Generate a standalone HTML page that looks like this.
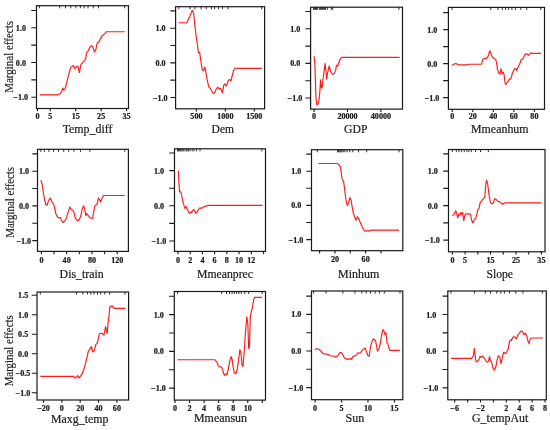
<!DOCTYPE html>
<html><head><meta charset="utf-8"><title>Marginal effects</title>
<style>
html,body{margin:0;padding:0;background:#fff;}
body{width:550px;height:430px;overflow:hidden;}
svg{display:block;}
.c{fill:none;stroke:#ff1a1a;stroke-width:1.15;stroke-linejoin:round;}
.b{fill:none;stroke:#1a1a1a;stroke-width:1.2;}
.k{fill:none;stroke:#1a1a1a;stroke-width:1.1;}
.r{fill:none;stroke:#1a1a1a;stroke-width:0.9;}
.t{font-family:"Liberation Serif",serif;font-weight:bold;font-size:8.1px;text-anchor:middle;fill:#1a1a1a;stroke:#1a1a1a;stroke-width:0.22px;}
.xl{font-family:"Liberation Serif",serif;font-size:11.9px;fill:#1a1a1a;stroke:#1a1a1a;stroke-width:0.2px;}
.yl{font-family:"Liberation Serif",serif;font-size:11.6px;text-anchor:middle;fill:#1a1a1a;stroke:#1a1a1a;stroke-width:0.15px;}
</style></head><body>
<svg width="550" height="430" viewBox="0 0 550 430">
<rect width="550" height="430" fill="#fff"/>
<polyline class="c" points="39.7,94.8 57.7,94.8 60.5,93.5 62,90.7 62.7,88.1 63.8,90.3 65.1,88.8 67.9,77.7 70.7,67.4 72,66.5 73.5,65.6 74.8,68.7 76.3,66.5 78.1,66.5 79.4,72.7 80.9,64.7 83.2,61.9 84.7,60.6 85.8,58.1 86.5,52.6 88.4,50.7 89.9,47 91.7,45.7 93,47.5 94.5,52 95.8,49.8 97.1,43.3 99.2,41.4 100.5,38.6 101.8,36.4 102.9,35.3 105.1,33.4 106.4,31.7 124.7,31.7"/>
<rect class="b" x="36.5" y="5.7" width="92" height="102.8"/>
<path class="k" d="M31.3 10.45H36.5M31.3 27.8H36.5M31.3 45.15H36.5M31.3 62.5H36.5M31.3 79.85H36.5M31.3 97.2H36.5M37.5 108.5V111.3M50.23 108.5V111.3M75.69 108.5V111.3M101.14 108.5V111.3M126.6 108.5V111.3"/>
<path class="r" d="M39.4 5.7V8.3M59.7 5.7V8.3M65.5 5.7V8.3M70.8 5.7V8.3M75.8 5.7V8.3M80.4 5.7V8.3M84.1 5.7V8.3M88 5.7V8.3M93.2 5.7V8.3M98.6 5.7V8.3M124.7 5.7V8.3"/>
<text class="t" x="20.9" y="30.8">1.0</text>
<text class="t" x="20.9" y="65.5">0.0</text>
<text class="t" x="20.65" y="100.2">−1.0</text>
<text class="t" x="37.5" y="118.5">0</text>
<text class="t" x="50.23" y="118.5">5</text>
<text class="t" x="75.69" y="118.5">15</text>
<text class="t" x="101.14" y="118.5">25</text>
<text class="t" x="126.6" y="118.5">35</text>
<text class="xl" x="62.7" y="133.4" textLength="49.7" lengthAdjust="spacingAndGlyphs">Temp_diff</text>
<polyline class="c" points="178.5,22.7 186.9,22.7 188.6,18.5 189.6,17.4 190.7,14.3 191.7,11.1 192.7,10.5 193.8,14.3 194.8,24.7 196.3,37.3 197.6,45.7 198.4,52.4 199.7,52.6 200.7,60.3 202.2,69.7 203.6,70.8 204.7,67 205.7,70.8 207,79.2 208.9,87.1 210.1,88 211.6,90.7 213.3,93.4 214.7,92.8 216.4,88.6 217.9,87.1 219.3,89.2 220.6,88.2 222.5,92.8 223.7,85.4 224.8,83.8 226.2,85.9 227.3,83.8 228.3,80.2 229.8,79.6 231,80.8 232.1,76 233.6,70.4 235.2,68.1 237.3,68.3 261.8,68.3"/>
<rect class="b" x="175.6" y="6.7" width="89" height="102.1"/>
<path class="k" d="M170.4 10.88H175.6M170.4 28.2H175.6M170.4 45.52H175.6M170.4 62.85H175.6M170.4 80.17H175.6M170.4 97.5H175.6M196.4 108.8V111.6M225.35 108.8V111.6M254.3 108.8V111.6"/>
<path class="r" d="M178.8 6.7V9.3M190.1 6.7V9.3M194.9 6.7V9.3M201.1 6.7V9.3M206.3 6.7V9.3M211.5 6.7V9.3M214.6 6.7V9.3M218.5 6.7V9.3M222.4 6.7V9.3M227.9 6.7V9.3M261.7 6.7V9.3"/>
<text class="t" x="160.5" y="31.2">1.0</text>
<text class="t" x="160.5" y="65.85">0.0</text>
<text class="t" x="160.25" y="100.5">−1.0</text>
<text class="t" x="196.4" y="118.8">500</text>
<text class="t" x="225.35" y="118.8">1000</text>
<text class="t" x="254.3" y="118.8">1500</text>
<text class="xl" x="211.6" y="133.4" textLength="22.4" lengthAdjust="spacingAndGlyphs">Dem</text>
<polyline class="c" points="314.1,56.3 314.9,64.4 315.4,80.7 315.9,97 316.8,104.8 317.8,104.3 319,100.2 319.8,92.1 320.6,79.9 321.4,88 322.2,87.2 323,79.1 324.3,69.3 325.1,63.6 326,71.7 326.6,79.1 327.6,72.6 328.4,69.3 329.2,66 330.3,70.1 331.2,72.6 332.8,74.2 334.4,73.4 335.7,70.1 336.5,65.2 337.7,66 338.8,62.8 339.8,59.5 341.7,57.3 399.6,57.3"/>
<rect class="b" x="310.6" y="7.2" width="91.9" height="101.9"/>
<path class="k" d="M305.4 11.5H310.6M305.4 28.8H310.6M305.4 46.1H310.6M305.4 63.4H310.6M305.4 80.7H310.6M305.4 98H310.6M314.1 109.1V111.9M347.5 109.1V111.9M380.9 109.1V111.9"/>
<path class="r" d="M313.5 7.2V9.8M314.5 7.2V9.8M315.5 7.2V9.8M316.5 7.2V9.8M317.6 7.2V9.8M319.4 7.2V9.8M320.4 7.2V9.8M321.4 7.2V9.8M322.4 7.2V9.8M323.4 7.2V9.8M324.4 7.2V9.8M325.5 7.2V9.8M327.3 7.2V9.8M331.3 7.2V9.8M332.6 7.2V9.8M398.9 7.2V9.8"/>
<text class="t" x="295.2" y="31.8">1.0</text>
<text class="t" x="295.2" y="66.4">0.0</text>
<text class="t" x="294.95" y="101">−1.0</text>
<text class="t" x="314.1" y="119.1">0</text>
<text class="t" x="347.5" y="119.1">20000</text>
<text class="t" x="380.9" y="119.1">40000</text>
<text class="xl" x="344" y="133.2" textLength="23.4" lengthAdjust="spacingAndGlyphs">GDP</text>
<polyline class="c" points="451.9,65.5 454.2,64.1 456,63.5 458.7,64.9 466.7,64.9 468.5,64.2 481.5,64.1 482.7,59.6 484.2,58.2 486,58.5 487.6,57.5 488.6,54.3 489.9,50.7 491.1,53.9 492.5,57.3 494.3,58.7 495.8,59.6 496.6,63.2 497.5,69.4 498.8,73 500,74.2 500.9,68.5 502,73.9 503.2,72.1 504.1,74.7 505,82.8 505.9,84.5 507.7,81.9 509.5,78.8 510.7,79.2 512.5,73 514.3,68.9 515.7,68.5 516.6,70.6 518.4,66.4 520.2,62.8 521.1,59.6 522.8,59.1 524.3,55.7 525.5,53.9 527.3,54.3 528.5,55.3 530,53.7 531.4,52.8 532.6,53.4 541,53.4"/>
<rect class="b" x="448.4" y="7.4" width="96.1" height="101.9"/>
<path class="k" d="M443.2 12.6H448.4M443.2 29.6H448.4M443.2 46.6H448.4M443.2 63.6H448.4M443.2 80.6H448.4M443.2 97.6H448.4M452.2 109.3V112.1M472.75 109.3V112.1M493.3 109.3V112.1M513.85 109.3V112.1M534.4 109.3V112.1"/>
<path class="r" d="M452.1 7.4V10M490.8 7.4V10M498 7.4V10M502.3 7.4V10M505.6 7.4V10M508.6 7.4V10M511.9 7.4V10M515.4 7.4V10M520.8 7.4V10M526.7 7.4V10M540.8 7.4V10"/>
<text class="t" x="432.3" y="32.6">1.0</text>
<text class="t" x="432.3" y="66.6">0.0</text>
<text class="t" x="432.05" y="100.6">−1.0</text>
<text class="t" x="452.2" y="119.3">0</text>
<text class="t" x="472.75" y="119.3">20</text>
<text class="t" x="493.3" y="119.3">40</text>
<text class="t" x="513.85" y="119.3">60</text>
<text class="t" x="534.4" y="119.3">80</text>
<text class="xl" x="471" y="133.2" textLength="57.6" lengthAdjust="spacingAndGlyphs">Mmeanhum</text>
<polyline class="c" points="40.9,180.2 42.1,184 43.2,191.4 44.5,199.5 45.9,205 47,205.3 48.1,202 49.8,198.2 51.1,199.5 52.4,202.8 53.7,204.1 54.7,208.5 56,214.3 57.6,217.2 59.3,217.9 60.4,217.5 61.7,220.5 62.9,222.5 64.5,221.1 66.1,218.9 67.5,214.3 68.8,210.2 69.9,206.9 71.2,209.4 72.9,210.2 74,212.6 75.3,217.9 76.8,220.3 78.4,220.3 80.1,217.9 81.4,213.5 82.5,207.7 83.8,205.8 85,210.7 85.8,215.6 86.8,213.5 87.9,215.1 89.5,217.2 91.2,218.2 92.5,218.4 93.6,212.6 94.8,206.1 96.1,205 97.2,203.6 98.5,197.9 99.4,199.5 100.7,202 101.8,198.7 103.5,195.5 124.7,195.5"/>
<rect class="b" x="37.5" y="149.3" width="90.9" height="102.1"/>
<path class="k" d="M32.3 153.85H37.5M32.3 171.2H37.5M32.3 188.55H37.5M32.3 205.9H37.5M32.3 223.25H37.5M32.3 240.6H37.5M41.4 251.4V254.2M54.03 251.4V254.2M66.67 251.4V254.2M79.3 251.4V254.2M91.93 251.4V254.2M104.57 251.4V254.2M117.2 251.4V254.2"/>
<path class="r" d="M40.8 149.3V151.9M44.3 149.3V151.9M48.9 149.3V151.9M53.5 149.3V151.9M58.5 149.3V151.9M63.7 149.3V151.9M68.7 149.3V151.9M74 149.3V151.9M80.5 149.3V151.9M89.9 149.3V151.9M124.8 149.3V151.9"/>
<text class="t" x="24.05" y="174.2">1.0</text>
<text class="t" x="24.05" y="208.9">0.0</text>
<text class="t" x="23.8" y="243.6">−1.0</text>
<text class="t" x="41.4" y="262.5">0</text>
<text class="t" x="66.67" y="262.5">40</text>
<text class="t" x="91.93" y="262.5">80</text>
<text class="t" x="117.2" y="262.5">120</text>
<text class="xl" x="59.6" y="278.2" textLength="44" lengthAdjust="spacingAndGlyphs">Dis_train</text>
<polyline class="c" points="178.5,170.8 178.8,180.3 179.5,191.9 180.1,191.2 181,192.5 182,197 183.3,203.4 185,208.5 186.3,206.6 187.2,209.1 188.4,211.7 189.7,213.3 190.6,212.1 191.6,212.6 192.9,210.4 193.9,209.5 194.8,211 195.8,213.3 197,212.1 198,210.4 199.3,208.5 200.3,207.8 201.2,208.7 202.5,207.5 204.4,206.6 206.3,205.9 208.5,205.4 262.5,205.4"/>
<rect class="b" x="174.5" y="148.8" width="91" height="102.6"/>
<path class="k" d="M169.3 153H174.5M169.3 170.6H174.5M169.3 188.2H174.5M169.3 205.8H174.5M169.3 223.4H174.5M169.3 241H174.5M178 251.4V254.2M190.21 251.4V254.2M202.43 251.4V254.2M214.64 251.4V254.2M226.86 251.4V254.2M239.07 251.4V254.2M251.29 251.4V254.2M263.5 251.4V254.2"/>
<path class="r" d="M177.5 148.8V151.4M178.6 148.8V151.4M179.7 148.8V151.4M180.8 148.8V151.4M181.9 148.8V151.4M183 148.8V151.4M184.1 148.8V151.4M186.2 148.8V151.4M187 148.8V151.4M188.3 148.8V151.4M190 148.8V151.4M192.2 148.8V151.4M194 148.8V151.4M196.6 148.8V151.4M200 148.8V151.4M261.9 148.8V151.4"/>
<text class="t" x="159.1" y="173.6">1.0</text>
<text class="t" x="159.1" y="208.8">0.0</text>
<text class="t" x="158.85" y="244">−1.0</text>
<text class="t" x="178" y="262.5">0</text>
<text class="t" x="190.21" y="262.5">2</text>
<text class="t" x="202.43" y="262.5">4</text>
<text class="t" x="214.64" y="262.5">6</text>
<text class="t" x="226.86" y="262.5">8</text>
<text class="t" x="239.07" y="262.5">10</text>
<text class="t" x="251.29" y="262.5">12</text>
<text class="xl" x="197" y="278.4" textLength="56" lengthAdjust="spacingAndGlyphs">Mmeanprec</text>
<polyline class="c" points="318.5,163.5 337.1,163.5 339.1,164.9 340.3,166.9 341.3,172.8 342,178.7 342.6,179.7 343.6,181.7 344.6,188.6 345.6,197.5 346.6,203.4 347.6,205.4 348.6,202.4 350,197.5 351.1,200.5 352.1,206.4 353.1,212.3 354.1,215.3 355.9,220.2 357.5,216.7 359,219.2 361,224.2 363,228.5 364.4,231.1 366.4,230.7 368.3,231.1 371.3,230.1 399,230.1"/>
<rect class="b" x="311.5" y="149.7" width="91.3" height="101"/>
<path class="k" d="M306.3 154.1H311.5M306.3 171.2H311.5M306.3 188.3H311.5M306.3 205.4H311.5M306.3 222.5H311.5M306.3 239.6H311.5M319.6 250.7V253.5M334.95 250.7V253.5M350.3 250.7V253.5M365.65 250.7V253.5M381 250.7V253.5"/>
<path class="r" d="M317.3 149.7V152.3M337.6 149.7V152.3M338.6 149.7V152.3M339.7 149.7V152.3M340.9 149.7V152.3M341.9 149.7V152.3M343.2 149.7V152.3M344.9 149.7V152.3M347 149.7V152.3M349.8 149.7V152.3M352.8 149.7V152.3M358.5 149.7V152.3M366.7 149.7V152.3M399 149.7V152.3"/>
<text class="t" x="296.2" y="174.2">1.0</text>
<text class="t" x="296.2" y="208.4">0.0</text>
<text class="t" x="295.95" y="242.6">−1.0</text>
<text class="t" x="334.95" y="261.8">20</text>
<text class="t" x="365.65" y="261.8">60</text>
<text class="xl" x="338" y="278.4" textLength="41.4" lengthAdjust="spacingAndGlyphs">Minhum</text>
<polyline class="c" points="452.1,215.5 453.9,214.8 455.6,210.8 456.5,212.5 457.7,217.8 459,213.8 460,215.1 460.9,212.5 461.7,214.3 462.6,212.5 463.8,220.7 465.1,214.3 466.5,213.8 469.1,213.8 470.5,214.3 471.7,220.4 472.9,223 474.3,219.5 475.7,218.6 476.9,213.8 477.8,209.9 479,208.2 480.1,202.9 481.3,201.2 483,199.1 484.8,196.8 485.7,185.5 486.5,180.2 487.8,184.6 489.1,195.9 490.5,202.6 492.1,203.8 493.2,203.3 494.7,198.6 496.5,199.8 497.9,201.2 500.5,202.6 502.8,204.3 504.5,202.9 541.5,202.9"/>
<rect class="b" x="448.5" y="149.5" width="96.5" height="102.3"/>
<path class="k" d="M443.3 153.85H448.5M443.3 171.1H448.5M443.3 188.35H448.5M443.3 205.6H448.5M443.3 222.85H448.5M443.3 240.1H448.5M452.4 251.8V254.6M465.11 251.8V254.6M477.83 251.8V254.6M490.54 251.8V254.6M503.26 251.8V254.6M515.97 251.8V254.6M528.69 251.8V254.6M541.4 251.8V254.6"/>
<path class="r" d="M452.3 149.5V152.1M456.3 149.5V152.1M458.9 149.5V152.1M461.7 149.5V152.1M464.3 149.5V152.1M466.9 149.5V152.1M468.9 149.5V152.1M471.3 149.5V152.1M475.5 149.5V152.1M480.5 149.5V152.1M488.3 149.5V152.1"/>
<text class="t" x="432.7" y="174.1">1.0</text>
<text class="t" x="432.7" y="208.6">0.0</text>
<text class="t" x="432.45" y="243.1">−1.0</text>
<text class="t" x="452.4" y="262.9">0</text>
<text class="t" x="465.11" y="262.9">5</text>
<text class="t" x="490.54" y="262.9">15</text>
<text class="t" x="515.97" y="262.9">25</text>
<text class="t" x="541.4" y="262.9">35</text>
<text class="xl" x="486.4" y="278.4" textLength="26.6" lengthAdjust="spacingAndGlyphs">Slope</text>
<polyline class="c" points="40.4,376.3 73.6,376.3 75,378.1 76.2,377.1 77.6,375.6 78.9,378.1 80.5,376.1 82.5,373.2 84.5,367.2 86.5,359.3 88.4,351 89.8,349.4 91.4,346.5 92.8,351.8 94.4,350.4 95.8,344.5 97.3,343.1 98.3,338.6 99.3,334 100.9,333.2 102.3,333.6 103.9,335.2 105.6,326.7 107.2,333.6 108.2,321.8 109.2,313.8 109.8,306.9 112.2,305.9 114.1,308.3 125,308.3"/>
<rect class="b" x="37" y="292" width="91.6" height="108"/>
<path class="k" d="M31.8 295.2H37M31.8 314.7H37M31.8 334.2H37M31.8 353.7H37M31.8 373.2H37M31.8 392.7H37M43.5 400V402.8M61.85 400V402.8M80.2 400V402.8M98.55 400V402.8M116.9 400V402.8"/>
<path class="r" d="M40.3 292V294.6M76.5 292V294.6M82.9 292V294.6M87.5 292V294.6M90.8 292V294.6M94 292V294.6M97.5 292V294.6M100.7 292V294.6M104.7 292V294.6M109.7 292V294.6M124.9 292V294.6"/>
<text class="t" x="23.15" y="298.2">1.5</text>
<text class="t" x="23.15" y="317.7">1.0</text>
<text class="t" x="23.15" y="337.2">0.5</text>
<text class="t" x="23.15" y="356.7">0.0</text>
<text class="t" x="22.9" y="376.2">−0.5</text>
<text class="t" x="22.9" y="395.7">−1.0</text>
<text class="t" x="43.5" y="411.1">−20</text>
<text class="t" x="61.85" y="411.1">0</text>
<text class="t" x="80.2" y="411.1">20</text>
<text class="t" x="98.55" y="411.1">40</text>
<text class="t" x="116.9" y="411.1">60</text>
<text class="xl" x="51" y="423" textLength="57.4" lengthAdjust="spacingAndGlyphs">Maxg_temp</text>
<polyline class="c" points="177.5,359.7 214.8,359.7 216.9,362.2 218.3,365.8 219.6,367 221.5,367 222.7,369.5 223.6,373.7 224.8,375.4 225.9,373.7 226.9,374.8 228.4,368.5 229.8,361.2 231.1,356.6 232.1,359.1 233.2,367.4 234.2,372.7 235.7,373.7 237.2,369.5 238.4,361.2 239.9,349.6 240.9,352.8 242,365.3 243,366.4 244.1,352.8 245.5,331.9 246.8,316.8 247.8,323.5 248.7,348.6 249.5,346.5 250.3,317.2 251.4,310.9 252.4,307.8 253.5,300.5 254.5,297.3 261.9,297.3"/>
<rect class="b" x="174.3" y="291.5" width="91.2" height="108.6"/>
<path class="k" d="M169.1 296.23H174.3M169.1 314.6H174.3M169.1 332.98H174.3M169.1 351.35H174.3M169.1 369.73H174.3M169.1 388.1H174.3M175 400.1V402.9M189.55 400.1V402.9M204.1 400.1V402.9M218.65 400.1V402.9M233.2 400.1V402.9M247.75 400.1V402.9M262.3 400.1V402.9"/>
<path class="r" d="M177.6 291.5V294.1M221.7 291.5V294.1M226.5 291.5V294.1M229.5 291.5V294.1M232.1 291.5V294.1M234.3 291.5V294.1M236.7 291.5V294.1M238.9 291.5V294.1M241.3 291.5V294.1M244.8 291.5V294.1M248.7 291.5V294.1M262.2 291.5V294.1"/>
<text class="t" x="158.7" y="317.6">1.0</text>
<text class="t" x="158.7" y="354.35">0.0</text>
<text class="t" x="158.45" y="391.1">−1.0</text>
<text class="t" x="175" y="411.2">0</text>
<text class="t" x="189.55" y="411.2">2</text>
<text class="t" x="204.1" y="411.2">4</text>
<text class="t" x="218.65" y="411.2">6</text>
<text class="t" x="233.2" y="411.2">8</text>
<text class="t" x="247.75" y="411.2">10</text>
<text class="xl" x="194" y="421.8" textLength="53" lengthAdjust="spacingAndGlyphs">Mmeansun</text>
<polyline class="c" points="314.9,349.9 316.1,349.1 317.2,348.6 318.9,349.5 320.5,350.8 322.1,352.7 323.8,354 325.4,354 327.1,354.4 328.4,354.4 330,355.7 331.6,356 333.3,356 334.9,356.8 336.5,356.8 338.2,355.2 339.5,352.7 341.1,352.4 342.8,354.4 344.4,358 346.4,359.3 348,358.9 349.3,359.3 350.5,358.5 351.6,359.3 352.9,356.8 354.5,355.7 356.2,355.2 357.8,352.7 359.5,353.2 361.1,351.9 363.1,349.5 365.2,348.1 366.8,352.7 368.1,356 369.3,356.3 370.6,346.2 372.1,341.3 373.4,338.8 374.5,339.6 375.5,340.5 376.6,346.2 377.5,351.1 378.8,349.5 380.4,342.9 381.5,335.5 382.9,329.5 384,331.1 385.1,334.7 386,332.8 387,342.9 387.8,343.7 389.7,350.3 399.9,350.3"/>
<rect class="b" x="311.5" y="291" width="91.3" height="108.7"/>
<path class="k" d="M306.3 296.1H311.5M306.3 314.4H311.5M306.3 332.7H311.5M306.3 351H311.5M306.3 369.3H311.5M306.3 387.6H311.5M315.1 399.7V402.5M341.53 399.7V402.5M367.97 399.7V402.5M394.4 399.7V402.5"/>
<path class="r" d="M313.6 291V293.6M326 291V293.6M342.9 291V293.6M354.9 291V293.6M361.8 291V293.6M366.1 291V293.6M370.5 291V293.6M375.1 291V293.6M379.4 291V293.6M384.3 291V293.6M400 291V293.6"/>
<text class="t" x="296.2" y="317.4">1.0</text>
<text class="t" x="296.2" y="354">0.0</text>
<text class="t" x="295.95" y="390.6">−1.0</text>
<text class="t" x="315.1" y="410.8">0</text>
<text class="t" x="341.53" y="410.8">5</text>
<text class="t" x="367.97" y="410.8">10</text>
<text class="t" x="394.4" y="410.8">15</text>
<text class="xl" x="345.6" y="421.8" textLength="18.8" lengthAdjust="spacingAndGlyphs">Sun</text>
<polyline class="c" points="451.1,358.4 471.7,358.4 473.4,355.8 474.3,348.3 475.2,356.7 476.1,361.9 477.3,361.5 478.7,360.1 480.1,356.3 481.3,357.5 482.5,355.8 483.9,357.5 485.7,360.5 487.1,362.2 488.4,361.5 489.5,356.7 490.5,360.5 491.8,362.8 493,368 494.4,370.3 495.8,367.1 497,360.5 498.2,355.8 499.6,356.7 501,363.6 502.2,358.4 503.5,352.3 504.9,353.5 506.6,352.3 508.3,348.8 509.2,342.7 510.1,340.1 511.3,340.6 512.7,337.5 513.9,336.6 515.3,337.5 516.6,338.9 517.6,335.7 518.8,334 520.2,331.9 521.4,330.8 522.7,331.9 524.1,334.8 525.3,333.1 526.7,335.7 527.9,340.9 528.9,343.6 530.2,338.9 531.9,338 542.9,338"/>
<rect class="b" x="447.8" y="291" width="98.5" height="108.8"/>
<path class="k" d="M442.6 296.15H447.8M442.6 314.5H447.8M442.6 332.85H447.8M442.6 351.2H447.8M442.6 369.55H447.8M442.6 387.9H447.8M454.7 399.8V402.6M467.6 399.8V402.6M480.5 399.8V402.6M493.4 399.8V402.6M506.3 399.8V402.6M519.2 399.8V402.6M532.1 399.8V402.6M545 399.8V402.6"/>
<path class="r" d="M451 291V293.6M474.4 291V293.6M485.3 291V293.6M490.5 291V293.6M496.7 291V293.6M500.9 291V293.6M504.4 291V293.6M509.5 291V293.6M515.8 291V293.6M522.9 291V293.6M542.4 291V293.6"/>
<text class="t" x="431.2" y="317.5">1.0</text>
<text class="t" x="431.2" y="354.2">0.0</text>
<text class="t" x="430.95" y="390.9">−1.0</text>
<text class="t" x="454.7" y="410.9">−6</text>
<text class="t" x="480.5" y="410.9">−2</text>
<text class="t" x="506.3" y="410.9">2</text>
<text class="t" x="519.2" y="410.9">4</text>
<text class="t" x="532.1" y="410.9">6</text>
<text class="t" x="545" y="410.9">8</text>
<text class="xl" x="472" y="422" textLength="56.4" lengthAdjust="spacingAndGlyphs">G_tempAut</text>
<text class="yl" transform="translate(13 56.9) rotate(-90)" x="0" y="0" textLength="71.7" lengthAdjust="spacingAndGlyphs">Marginal effects</text>
<text class="yl" transform="translate(13.9 202.35) rotate(-90)" x="0" y="0" textLength="70.8" lengthAdjust="spacingAndGlyphs">Marginal effects</text>
<text class="yl" transform="translate(13 350.8) rotate(-90)" x="0" y="0" textLength="71.1" lengthAdjust="spacingAndGlyphs">Marginal effects</text>
</svg>
</body></html>
